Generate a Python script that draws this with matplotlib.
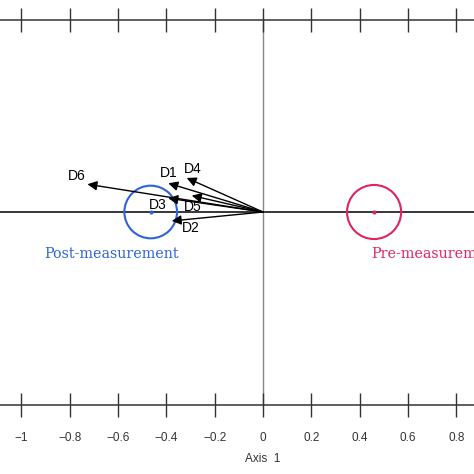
import numpy as np
import matplotlib
matplotlib.use("Agg")
from matplotlib import pyplot as plt
from matplotlib.patches import Circle

# arrow end points (axis 1, axis 2)
dims = ["D1", "D2", "D3", "D4", "D5", "D6"]
dim_x = [-0.392, -0.378, -0.392, -0.316, -0.295, -0.727]
dim_y = [0.119, -0.037, 0.057, 0.141, 0.068, 0.115]
# label positions
lab_x = [-0.389, -0.30, -0.434, -0.289, -0.292, -0.770]
lab_y = [0.163, -0.068, 0.029, 0.177, 0.020, 0.149]

# group centroids and confidence circles
groups = ["Post-measurement", "Pre-measurement"]
group_x = [-0.465, 0.46]
group_y = [0.0, 0.0]
group_r = [0.109, 0.112]
group_colors = ["#2f63d6", "#e0245e"]
group_lab_x = [-0.905, 0.448]
group_lab_y = [-0.175, -0.172]

ticks = [-1, -0.8, -0.6, -0.4, -0.2, 0, 0.2, 0.4, 0.6, 0.8]
tick_labels = ["\u22121", "\u22120.8", "\u22120.6", "\u22120.4", "\u22120.2",
               "0", "0.2", "0.4", "0.6", "0.8"]

px_per_unit = 241.5
fig = plt.figure(figsize=(4.74, 4.74), dpi=100)
ax = fig.add_axes([0, 0, 1, 1])
ax.set_xlim(-263 / px_per_unit, (474 - 263) / px_per_unit)
ax.set_ylim(-(474 - 212) / px_per_unit, 212 / px_per_unit)

# frame: top and bottom spines pulled onto the +/-0.8 lines
for side in ["left", "right"]:
    ax.spines[side].set_visible(False)
ax.spines["top"].set_position(("data", 0.797))
ax.spines["bottom"].set_position(("data", -0.80))
for side in ["top", "bottom"]:
    ax.spines[side].set_color("#333333")
    ax.spines[side].set_linewidth(1.1)
ax.set_xticks(ticks)
ax.set_xticklabels(tick_labels, fontsize=8.5, family="Liberation Sans",
                   color="#333333")
ax.tick_params(axis="x", direction="inout", length=17, width=1.0,
               color="#333333", top=True, bottom=True, pad=11)
ax.set_yticks([])
ax.set_xlabel("Axis  1", fontsize=8.5, family="Liberation Sans",
              color="#333333")
ax.xaxis.set_label_coords(263 / 474, 1 - 453 / 474)

ax.axhline(0, color="black", lw=1.1, zorder=1)
ax.plot([0, 0], [-0.80, 0.797], color="#888888", lw=1.0, zorder=1)

for i, d in enumerate(dims):
    ax.annotate("", xy=(dim_x[i], dim_y[i]), xytext=(0, 0),
                arrowprops=dict(arrowstyle="-|>", color="black", lw=1.0,
                                mutation_scale=14, shrinkA=0, shrinkB=0))
    ax.text(lab_x[i], lab_y[i], d, fontsize=10, family="Liberation Sans",
            ha="center", va="center", color="black")

for i, g in enumerate(groups):
    ax.add_patch(Circle((group_x[i], group_y[i]), group_r[i], fill=False,
                        ec=group_colors[i], lw=1.5))
    ax.plot(group_x[i], group_y[i], "o", ms=2, color=group_colors[i])
    ax.text(group_lab_x[i], group_lab_y[i], g, fontsize=10.3,
            family="DejaVu Serif", color=group_colors[i],
            ha="left", va="center")

fig.savefig("out.png", dpi=100)
